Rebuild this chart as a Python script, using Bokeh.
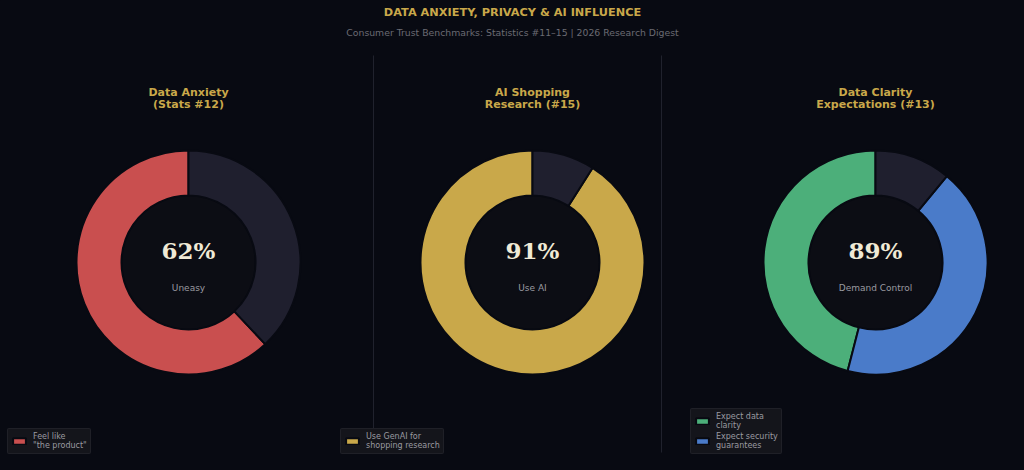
from bokeh.plotting import figure
from bokeh.models import Range1d, Legend, LegendItem, ColumnDataSource
from bokeh.core.properties import value
from bokeh.embed import file_html
from bokeh.resources import INLINE
import numpy as np

# ---- data ----
main_title = "DATA ANXIETY, PRIVACY & AI INFLUENCE"
sub_title = "Consumer Trust Benchmarks: Statistics #11\u201315 | 2026 Research Digest"
panel_titles = ["Data Anxiety\n(Stats #12)", "AI Shopping\nResearch (#15)", "Data Clarity\nExpectations (#13)"]
center_values = ["62%", "91%", "89%"]
center_labels = ["Uneasy", "Use AI", "Demand Control"]

anxiety_values = [62, 38]
shopping_values = [91, 9]
clarity_values = [46, 43, 11]

anxiety_labels = ["Feel like\n\"the product\""]
shopping_labels = ["Use GenAI for\nshopping research"]
clarity_labels = ["Expect data\nclarity", "Expect security\nguarantees"]

# ---- styles ----
BG = "#080a12"
CENTER = "#0c0d14"
REST = "#1f1f2e"
GOLD = "#c9a84a"
anxiety_colors = ["#c94f4f", REST]
shopping_colors = [GOLD, REST]
clarity_colors = ["#4caf7a", "#4a7bc9", REST]

W, H = 1008, 454
p = figure(width=W, height=H, output_backend="svg", toolbar_location=None,
           x_range=Range1d(0, W), y_range=Range1d(0, H),
           min_border=0, background_fill_color=BG, border_fill_color=BG)
p.axis.visible = False
p.grid.visible = False
p.outline_line_color = None

def Y(yref):
    return H - yref

centers_x = [188, 532, 875]
cy = Y(262)
R_OUT, R_IN = 112, 67

# separators
p.segment(x0=[373, 661], y0=[Y(55)] * 2, x1=[373, 661], y1=[Y(452)] * 2,
          line_color="#20222d", line_width=1)

def donut(cx, vals, colors):
    fr = np.array(vals) / 100.0
    ends = np.cumsum(fr) * 2 * np.pi
    starts = np.concatenate([[0], ends[:-1]])
    src = ColumnDataSource(dict(
        x=[cx] * len(vals), y=[cy] * len(vals),
        start=np.pi / 2 + starts, end=np.pi / 2 + ends, color=colors))
    r = p.annular_wedge(x="x", y="y", inner_radius=R_IN, outer_radius=R_OUT,
                        start_angle="start", end_angle="end", direction="anticlock",
                        fill_color="color", line_color=BG, line_width=2, source=src)
    p.circle(x=[cx], y=[cy], radius=R_IN - 1, fill_color=CENTER, line_color=None)
    return r

r1 = donut(centers_x[0], anxiety_values, anxiety_colors)
r2 = donut(centers_x[1], shopping_values, shopping_colors)
r3 = donut(centers_x[2], clarity_values, clarity_colors)

# titles
p.text(x=[512], y=[Y(12)], text=[main_title], text_align="center", text_baseline="middle",
       text_font=value("DejaVu Sans"), text_font_style="bold", text_font_size="11.3px",
       text_color=GOLD)
p.text(x=[512], y=[Y(32)], text=[sub_title], text_align="center", text_baseline="middle",
       text_font=value("DejaVu Sans"), text_font_size="9.3px", text_color="#6b6b73")
p.text(x=centers_x, y=[Y(98)] * 3, text=panel_titles, text_align="center",
       text_baseline="middle", text_font=value("DejaVu Sans"), text_font_style="bold",
       text_font_size="11px", text_color=GOLD, text_line_height=0.95)
p.text(x=centers_x, y=[Y(250)] * 3, text=center_values, text_align="center",
       text_baseline="middle", text_font=value("DejaVu Serif"), text_font_style="bold",
       text_font_size="23px", text_color="#f0ead6")
p.text(x=centers_x, y=[Y(287)] * 3, text=center_labels, text_align="center",
       text_baseline="middle", text_font=value("DejaVu Sans"), text_font_size="9px",
       text_color="#9a9aa0")

def add_legend(renderer, labels, loc):
    items = [LegendItem(label=lab, renderers=[renderer], index=i) for i, lab in enumerate(labels)]
    lg = Legend(items=items, location=loc, label_text_font_size="8px",
                label_text_font="DejaVu Sans", label_text_color="#9a9aa0",
                label_text_line_height=1.15,
                background_fill_color="#14151b", background_fill_alpha=1.0,
                border_line_color="#2a2b33", border_line_width=1,
                glyph_width=16, glyph_height=8, label_height=17, label_standoff=6,
                padding=3, spacing=2, margin=0, border_radius=2)
    p.add_layout(lg, "center")

add_legend(r1, anxiety_labels, (7, 0))
add_legend(r2, shopping_labels, (340, 0))
add_legend(r3, clarity_labels, (690, 0))

html = file_html(p, INLINE)
html = html.replace("<head>", "<head><style>html,body{background:%s;}</style>" % BG, 1)
open("out.html", "w").write(html)
